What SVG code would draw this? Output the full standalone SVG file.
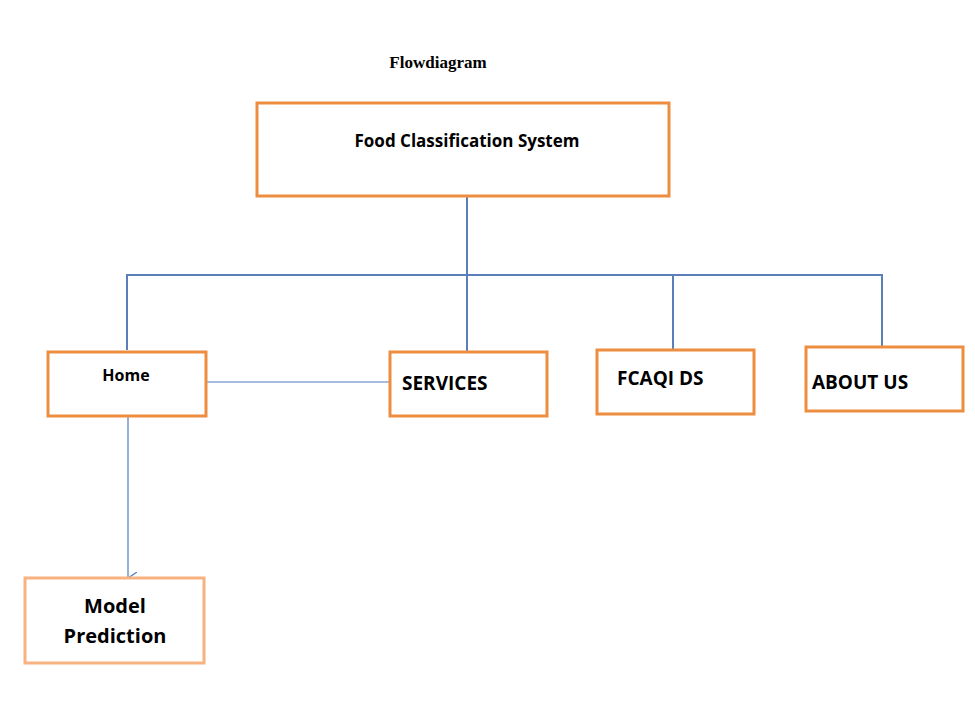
<svg xmlns="http://www.w3.org/2000/svg" width="975" height="705" viewBox="0 0 975 705">
<style>
.box{fill:#fff;stroke:#ed8d3f;stroke-width:3}
.t{font-family:"Open Sans","Liberation Sans",sans-serif;font-weight:bold;fill:#000}
.c{stroke:#5b80b9;stroke-width:2;fill:none}
.c1{stroke:#4a7cc4;stroke-width:1.2;fill:none}
</style>
<defs><marker id="a" markerWidth="12" markerHeight="10" refX="6" refY="9" orient="auto" markerUnits="userSpaceOnUse"><path d="M0,0 L6,9 L12,0" fill="none" stroke="#4a7cc4" stroke-width="1.2"/></marker></defs>
<rect width="975" height="705" fill="#fff"/>
<text x="438" y="68" text-anchor="middle" font-family="Liberation Serif,serif" font-weight="bold" font-size="17">Flowdiagram</text>
<g id="connectors">
<path class="c" d="M467 197 V271 M127 350 V275 H882 V348 M467 271 V351 M673 275 V350"/>
<path class="c1" d="M206 382 H392"/>
<path class="c1" d="M128 414 V578" marker-end="url(#a)"/>
</g>
<g id="fcs"><rect class="box" x="257" y="103" width="412" height="93"/><text class="t" x="467" y="147" text-anchor="middle" font-size="17">Food Classification System</text></g>
<g id="home"><rect class="box" x="48" y="352" width="158" height="64"/><text class="t" x="126" y="381" text-anchor="middle" font-size="16">Home</text></g>
<g id="services"><rect class="box" x="390" y="352" width="157" height="64"/><text class="t" x="402" y="390" font-size="19">SERVICES</text></g>
<g id="fcaqi"><rect class="box" x="597" y="350" width="157" height="64"/><text class="t" x="617" y="385" font-size="19">FCAQI DS</text></g>
<g id="about"><rect class="box" x="806" y="347" width="157" height="64"/><text class="t" x="812" y="389" font-size="19">ABOUT US</text></g>
<g id="model"><rect x="25" y="578" width="179" height="85" fill="#fff" stroke="#f7b27f" stroke-width="3"/><text class="t" x="115" y="613" text-anchor="middle" font-size="20">Model</text><text class="t" x="115" y="643" text-anchor="middle" font-size="20">Prediction</text></g>
</svg>
